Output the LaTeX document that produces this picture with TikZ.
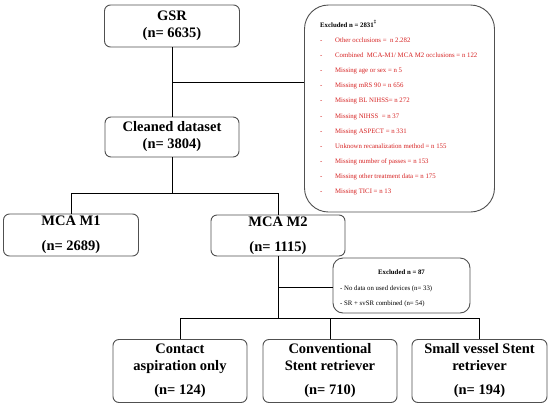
\documentclass[tikz,border=0pt]{standalone}
\usepackage{fontspec}
\setmainfont{Liberation Serif}
\definecolor{exred}{RGB}{215,35,35}
\definecolor{boxgray}{RGB}{80,80,80}
\begin{document}
\begin{tikzpicture}[x=1pt,y=-1pt,
  box/.style={draw=boxgray, line width=0.9pt, rounded corners=6pt, align=center,
    font=\fontsize{14.5}{17}\selectfont\bfseries, inner sep=0pt},
  exbox/.style={draw=boxgray, line width=0.9pt, inner sep=0pt},
  link/.style={draw=black, line width=0.9pt},
  listitem/.style={anchor=base west, inner sep=0pt, font=\fontsize{6.8}{8}\selectfont, text=exred},
  smallitem/.style={anchor=base west, inner sep=0pt, font=\fontsize{6.8}{8}\selectfont},
  smallhead/.style={inner sep=0pt, font=\fontsize{6.8}{8}\selectfont\bfseries},
]
\useasboundingbox (0,0) rectangle (550,408);
\fill[white] (0,0) rectangle (550,408);

% main boxes
\node[box, minimum width=135pt, minimum height=42pt] (gsr) at (172,26) {GSR\\(n= 6635)};
\node[box, minimum width=134pt, minimum height=40pt] (clean) at (172,137) {Cleaned dataset\\(n= 3804)};
\node[box, minimum width=135pt, minimum height=42pt] (m1) at (71,235) {MCA M1\\[8pt](n= 2689)};
\node[box, minimum width=134pt, minimum height=41pt] (m2) at (278,235.5) {MCA M2\\[8pt](n= 1115)};
\node[box, minimum width=134pt, minimum height=63pt] (contact) at (180,371) {Contact\\aspiration only\\[7pt](n= 124)};
\node[box, minimum width=134pt, minimum height=63pt] (conv) at (330,371) {Conventional\\Stent retriever\\[7pt](n= 710)};
\node[box, minimum width=135pt, minimum height=63pt] (small) at (479.5,371) {Small vessel Stent\\retriever\\[7pt](n= 194)};

% exclusion boxes
\node[exbox, rounded corners=24pt, minimum width=190pt, minimum height=207pt] (ex1) at (399.5,108.5) {};
\node[exbox, rounded corners=10pt, minimum width=137pt, minimum height=55pt] (ex2) at (401.5,285.5) {};

% list of first exclusion
\node[smallhead, anchor=base west] (exh1) at (320,27) {Excluded n = 2831\textsuperscript{‡}};
\foreach \t [count=\i] in {
  {Other occlusions =\ \ n 2.282},
  {Combined\ \ MCA-M1/ MCA M2 occlusions = n 122},
  {Missing age or sex = n 5},
  {Missing mRS 90 = n 656},
  {Missing BL NIHSS= n 272},
  {Missing NIHSS\ \ = n 37},
  {Missing ASPECT = n 331},
  {Unknown recanalization method = n 155},
  {Missing number of passes = n 153},
  {Missing other treatment data = n 175},
  {Missing TICI = n 13}} {
  \node[listitem] (d\i) at (320,{42.5+15.1*(\i-1)}) {-};
  \node[listitem] (l\i) at (335,{42.5+15.1*(\i-1)}) {\t};
}

% list of second exclusion
\node[smallhead, anchor=base] (exh2) at (401.5,274.5) {Excluded n = 87};
\node[smallitem] (e1) at (340,290) {- No data on used devices (n= 33)};
\node[smallitem] (e2) at (340,305) {- SR + svSR combined (n= 54)};

% connectors
\coordinate (b1) at (172,82);
\coordinate (b2) at (172,193);
\coordinate (b3) at (278,318);
\coordinate (b4) at (278,287);
\draw[link] (gsr.south) -- (clean.north);
\draw[link] (b1) -- (ex1.west |- b1);
\draw[link] (clean.south) -- (b2);
\draw[link] (m1.north) -- (m1.north |- b2) -| (m2.north);
\draw[link] (m2.south) -- (b3);
\draw[link] (b4) -- (ex2.west |- b4);
\draw[link] (contact.north) -- (contact.north |- b3) -| (small.north);
\draw[link] (conv.north) -- (conv.north |- b3);
\end{tikzpicture}
\end{document}
